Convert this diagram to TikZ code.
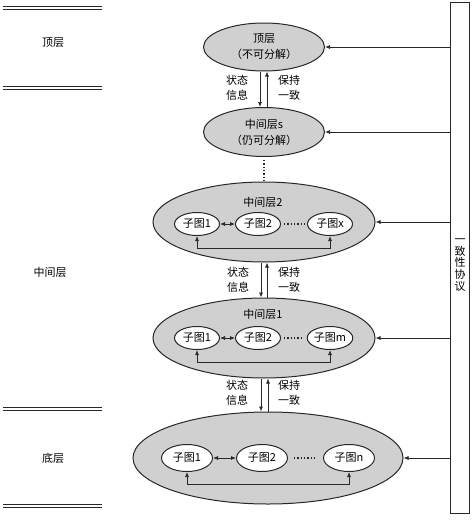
\documentclass[tikz,border=0pt]{standalone}
\usepackage{fontspec}
\setmainfont{Noto Sans CJK SC}
\usetikzlibrary{shapes.geometric,arrows.meta,calc}
\definecolor{layerfill}{RGB}{208,208,208}
\definecolor{linec}{RGB}{40,40,40}
\tikzset{
  bigell/.style={ellipse, draw=linec, line width=1pt, fill=layerfill, inner sep=0pt},
  subell/.style={ellipse, draw=linec, line width=1pt, fill=white, inner sep=0pt,
                 minimum width=45pt, minimum height=23pt, font=\fontsize{11pt}{12pt}\selectfont},
  arr/.style={-{Latex[length=5pt,width=4pt]}, line width=0.75pt, draw=linec},
  dbl/.style={{Latex[length=5pt,width=4pt]}-{Latex[length=5pt,width=4pt]}, line width=0.75pt, draw=linec},
  lbl/.style={align=center, inner sep=0pt, font=\fontsize{11pt}{15.5pt}\selectfont},
  sidelbl/.style={inner sep=0pt, font=\fontsize{11pt}{12pt}\selectfont},
  sepline/.style={draw=linec, line width=0.9pt},
  dots/.style={dotted, line width=1.3pt, draw=linec},
}
\begin{document}
\begin{tikzpicture}[x=1pt,y=-1pt]
\useasboundingbox (0,0) rectangle (474,527);
% left separators
\foreach \yy in {8,88,409,506}{
  \draw[sepline] (3,\yy-1.3) -- (102,\yy-1.3);
  \draw[sepline] (3,\yy+1.3) -- (102,\yy+1.3);
}
\node[sidelbl] (lt) at (53,43) {顶层};
\node[sidelbl] (lm) at (50,272) {中间层};
\node[sidelbl] (lb) at (53,458) {底层};
% protocol bar
\node[draw=linec, line width=1pt, minimum width=19pt, minimum height=510pt, inner sep=0pt] (bar) at (460,258) {};
\node[align=center, inner sep=0pt, font=\fontsize{11pt}{11.8pt}\selectfont] (bartxt) at (460,265) {一\\致\\性\\协\\议};
% top layer
\node[bigell, minimum width=121pt, minimum height=48pt, align=center, font=\fontsize{11pt}{16pt}\selectfont] (top) at (264,47) {顶层\\（不可分解）};
\node[bigell, minimum width=121pt, minimum height=49pt, align=center, font=\fontsize{11pt}{16pt}\selectfont] (mids) at (264,132) {中间层s\\（仍可分解）};
% middle layer 2
\node[bigell, minimum width=222pt, minimum height=80pt] (m2) at (264,222) {};
\node[sidelbl] (m2t) at (263,202) {中间层2};
\node[subell] (a1) at (197,224) {子图1};
\node[subell] (a2) at (258,224) {子图2};
\node[subell] (ax) at (330,224) {子图x};
% middle layer 1
\node[bigell, minimum width=222pt, minimum height=80pt] (m1) at (264,338) {};
\node[sidelbl] (m1t) at (263,314) {中间层1};
\node[subell] (b1) at (197,338) {子图1};
\node[subell] (b2) at (258,338) {子图2};
\node[subell] (bm) at (330,338) {子图m};
% bottom layer
\node[bigell, minimum width=270pt, minimum height=92pt] (bot) at (268,458) {};
\node[subell, minimum width=51pt, minimum height=27pt] (c1) at (187,458) {子图1};
\node[subell, minimum width=51pt, minimum height=27pt] (c2) at (262,458) {子图2};
\node[subell, minimum width=51pt, minimum height=27pt] (cn) at (349,458) {子图n};
% inner connectors
\draw[dbl] (a1) -- (a2);
\draw[dots, shorten <=3pt, shorten >=3pt] (a2) -- (ax);
\draw[dbl] (a1.south) -- ++(0,12) -| (ax.south);
\draw[dbl] (b1) -- (b2);
\draw[dots, shorten <=3pt, shorten >=3pt] (b2) -- (bm);
\draw[dbl] (b1.south) -- ++(0,12) -| (bm.south);
\draw[dbl] (c1) -- (c2);
\draw[dots, shorten <=6pt, shorten >=6pt] (c2) -- (cn);
\draw[dbl] (c1.south) -- ++(0,12) -| (cn.south);
% vertical dotted
\draw[dots, shorten <=3pt, shorten >=1pt] (mids.south) -- (m2.north);
% inter-layer arrows
\draw[arr] ([xshift=-4pt]top.south) -- ([xshift=-4pt]top.south |- mids.north);
\draw[arr] ([xshift=3pt]mids.north) -- ([xshift=3pt]mids.north |- top.south);
\node[lbl] (s1) at (237,88) {状态\\信息};
\node[lbl] (k1) at (289,88) {保持\\一致};
\draw[arr] ([xshift=-3pt]m2.south) -- ([xshift=-3pt]m2.south |- m1.north);
\draw[arr] ([xshift=3pt]m1.north) -- ([xshift=3pt]m1.north |- m2.south);
\node[lbl] (s2) at (238,280) {状态\\信息};
\node[lbl] (k2) at (289,280) {保持\\一致};
\draw[arr] ([xshift=-3pt]m1.south) -- ([xshift=-3pt]m1.south |- bot.north);
\draw[arr] ([xshift=4pt]m1.south |- bot.north) -- ([xshift=4pt]m1.south);
\node[lbl] (s3) at (237,393) {状态\\信息};
\node[lbl] (k3) at (289,393) {保持\\一致};
% protocol arrows
\draw[arr] (bar.west |- top.east) -- (top.east);
\draw[arr] (bar.west |- mids.east) -- (mids.east);
\draw[arr] (bar.west |- m2.east) -- (m2.east);
\draw[arr] (bar.west |- m1.east) -- (m1.east);
\draw[arr] (bar.west |- bot.east) -- (bot.east);
\end{tikzpicture}
\end{document}
